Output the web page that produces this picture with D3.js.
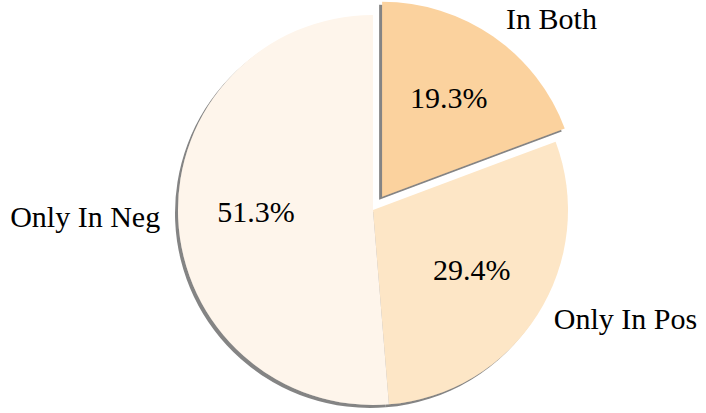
<!DOCTYPE html>
<html>
<head>
<meta charset="utf-8">
<script src="https://cdn.jsdelivr.net/npm/d3@7"></script>
<style>
  html, body { margin: 0; padding: 0; background: #fff; }
</style>
</head>
<body>
<div id="chart"></div>
<script>
// data, clockwise from 12 o'clock
var labels = ["In Both", "Only In Pos", "Only In Neg"];
var values = [19.3, 29.4, 51.3];
var colors = ["#fbd29e", "#fde6c6", "#fef5eb"];
var exploded = [true, false, false];

var width = 706, height = 413;
var cx = 373, cy = 210, R = 195, explode = 16;
var font = "'Times New Roman', 'Liberation Serif', Tinos, serif";

var svg = d3.select("#chart").append("svg")
  .attr("width", width)
  .attr("height", height);

var defs = svg.append("defs");
var f = defs.append("filter").attr("id", "shadow")
  .attr("x", "-10%").attr("y", "-10%").attr("width", "120%").attr("height", "120%");
f.append("feDropShadow")
  .attr("dx", -3).attr("dy", 3)
  .attr("stdDeviation", 0.7)
  .attr("flood-color", "#6e6e6e")
  .attr("flood-opacity", 0.85);

var data = labels.map(function(d, i){
  return { label: d, value: values[i], color: colors[i], out: exploded[i] };
});

var pie = d3.pie().sort(null).value(function(d){ return d.value; });
var arcs = pie(data);
var arc = d3.arc().innerRadius(0).outerRadius(R);

function mid(d){ return (d.startAngle + d.endAngle) / 2; }
function offset(d){
  var k = d.data.out ? explode : 0;
  return [Math.sin(mid(d)) * k, -Math.cos(mid(d)) * k];
}

var g = svg.append("g")
  .attr("transform", "translate(" + cx + "," + cy + ")")
  .attr("filter", "url(#shadow)");

g.selectAll("path")
  .data(arcs)
  .enter()
  .append("path")
  .attr("d", arc)
  .attr("transform", function(d){ var o = offset(d); return "translate(" + o[0] + "," + o[1] + ")"; })
  .style("fill", function(d){ return d.data.color; });

var lg = svg.append("g")
  .attr("transform", "translate(" + cx + "," + cy + ")");

// percent labels inside
lg.selectAll(".pct")
  .data(arcs)
  .enter()
  .append("text")
  .attr("class", "pct")
  .attr("x", function(d){ return offset(d)[0] + Math.sin(mid(d)) * R * 0.6; })
  .attr("y", function(d){ return offset(d)[1] - Math.cos(mid(d)) * R * 0.6 - 3; })
  .attr("text-anchor", "middle")
  .attr("dominant-baseline", "central")
  .style("font-family", font)
  .style("font-size", "30px")
  .style("fill", "#000")
  .text(function(d){ return d.data.value.toFixed(1) + "%"; });

// category labels outside, kept inside the top edge
lg.selectAll(".cat")
  .data(arcs)
  .enter()
  .append("text")
  .attr("class", "cat")
  .attr("x", function(d){
    var s = Math.sin(mid(d));
    return offset(d)[0] + s * (R + 12) + (s > 0 ? 6 : -6);
  })
  .attr("y", function(d){
    var c = Math.cos(mid(d));
    var y = offset(d)[1] - c * (R + 12) - (c > 0.5 ? c * 12 : 0) - 2;
    return Math.max(y, 18 - cy);
  })
  .attr("text-anchor", function(d){ return Math.sin(mid(d)) > 0 ? "start" : "end"; })
  .attr("dominant-baseline", "central")
  .style("font-family", font)
  .style("font-size", "30px")
  .style("fill", "#000")
  .text(function(d){ return d.data.label; });
</script>
</body>
</html>
